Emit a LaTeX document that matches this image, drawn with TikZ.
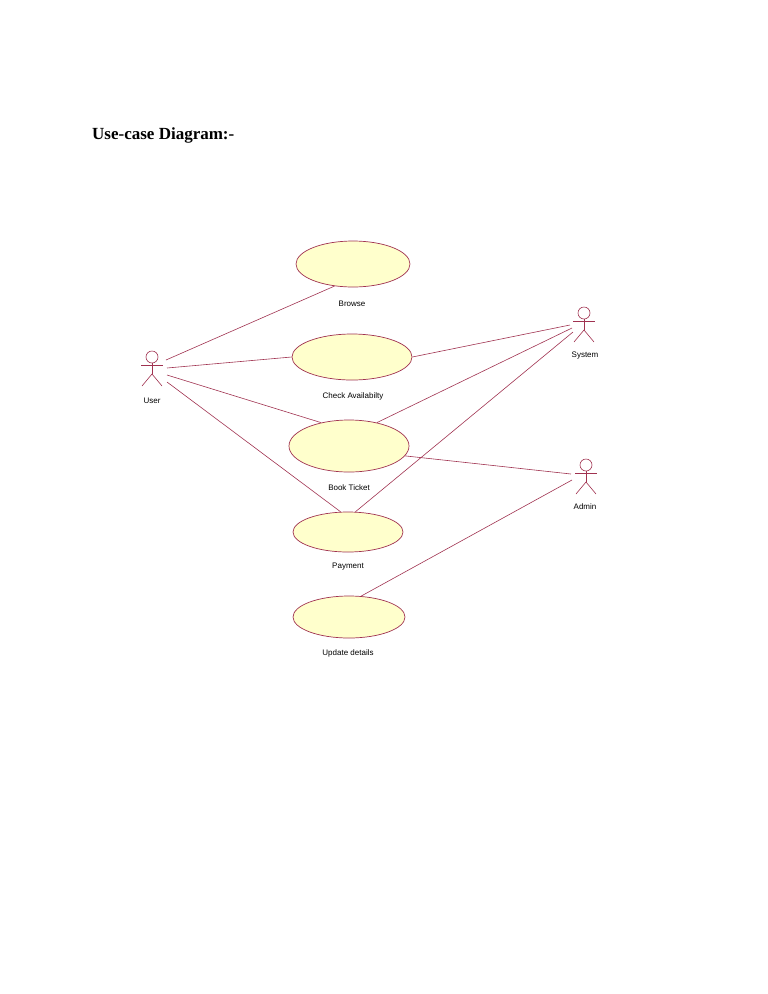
\documentclass[tikz,border=0pt]{standalone}
\usepackage{fontspec}
\setmainfont{Liberation Serif}
\newfontfamily\lsans{Liberation Sans}
\usetikzlibrary{shapes.geometric}
\definecolor{ln}{RGB}{160,50,80}
\definecolor{uc}{RGB}{255,255,204}
\tikzset{
  usecase/.style={ellipse,draw=ln,fill=uc,line width=0.7pt,inner sep=0pt},
  lbl/.style={font=\lsans\fontsize{8}{9}\selectfont,inner sep=0pt},
  assoc/.style={draw=ln,line width=0.6pt},
  fig/.style={draw=ln,line width=0.6pt}
}
\newcommand{\actor}[3]{% name, x, y(head center)
  \draw[fig] (#2,#3) circle (6);
  \draw[fig] (#2,#3+6) -- (#2,#3+17) coordinate (#1hip);
  \draw[fig] (#2-11,#3+8) -- (#2+11,#3+8);
  \draw[fig] (#2-10,#3+29) -- (#1hip) -- (#2+10,#3+29);
  \coordinate (#1) at (#2,#3+9);
}
\begin{document}
\begin{tikzpicture}[x=1pt,y=-1pt]
\useasboundingbox (0,0) rectangle (768,994);
\node[anchor=west,font=\bfseries\fontsize{17}{20}\selectfont,inner sep=0pt] (title) at (92,135) {Use-case Diagram:-};
\node[usecase,minimum width=114,minimum height=46] (br) at (353,264) {};
\node[usecase,minimum width=120,minimum height=46] (ca) at (352,357) {};
\node[usecase,minimum width=120,minimum height=52] (bt) at (349,446) {};
\node[usecase,minimum width=110,minimum height=40] (pa) at (348,532) {};
\node[usecase,minimum width=112,minimum height=42] (ud) at (349,617) {};
\node[lbl] (brl) at (352,304) {Browse};
\node[lbl] (cal) at (353,396) {Check Availabilty};
\node[lbl] (btl) at (349,488) {Book Ticket};
\node[lbl] (pal) at (348,567) {Payment};
\node[lbl] (udl) at (348,653) {Update details};
\actor{user}{152}{357}
\actor{sys}{584}{313}
\actor{adm}{586}{465}
\node[lbl] (userl) at (152,401) {User};
\node[lbl] (sysl) at (585,356) {System};
\node[lbl] (adml) at (585,507) {Admin};
\coordinate (u1) at (166,360); \coordinate (u2) at (167,368);
\coordinate (u3) at (167,375); \coordinate (u4) at (167,382);
\coordinate (s1) at (570,325); \coordinate (s2) at (572,328); \coordinate (s3) at (573,332);
\coordinate (a1) at (571,474); \coordinate (a2) at (572,480);
\draw[assoc] (u1) -- (br.230);
\draw[assoc] (u2) -- (ca.west);
\draw[assoc] (u3) -- (bt.140);
\draw[assoc] (u4) -- (pa.110);
\draw[assoc] (ca.east) -- (s1);
\draw[assoc] (bt.40) -- (s2);
\draw[assoc] (pa.70) -- (s3);
\draw[assoc] (bt.-10) -- (a1);
\draw[assoc] (ud.60) -- (a2);
\end{tikzpicture}
\end{document}
